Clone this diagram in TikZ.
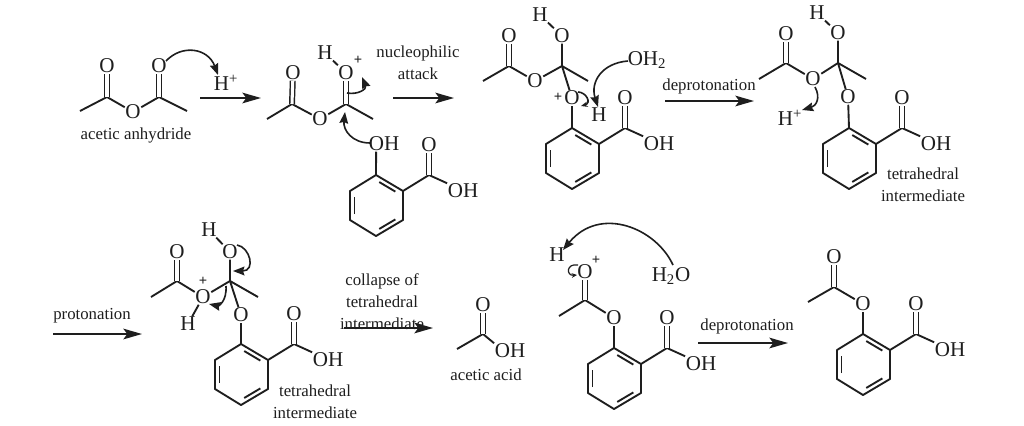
\documentclass[tikz,border=0pt]{standalone}
\usepackage{fontspec}
\setmainfont{Liberation Serif}
\usetikzlibrary{arrows.meta,calc}
\newcommand\atomsize{\fontsize{15.8}{15.8}\selectfont}
\newcommand\labelsize{\fontsize{12.6}{12.6}\selectfont}
\tikzset{
  atom/.style={inner sep=0.3pt,font=\atomsize,text=ink},
  lab/.style={inner sep=0pt,font=\labelsize,text=ink,align=center},
  chg/.style={inner sep=0pt,font=\bfseries\fontsize{11}{11}\selectfont,text=ink},
  bond/.style={draw=ink,line width=1.4pt,line join=round},
  dbl/.style={draw=ink,line width=1.1pt,double=white,double distance=2.3pt},
  rxn/.style={draw=ink,line width=1.3pt,-{Stealth[length=14pt,width=8pt,inset=3pt]}},
  push/.style={draw=ink,line width=1.2pt,-{Stealth[length=8.5pt,width=6.5pt,inset=1pt]}}
}
\definecolor{ink}{HTML}{1E1E1E}
% ring with COOH; #1 prefix, (#2,#3) ring vertex carrying the O substituent
\newcommand\salring[3]{%
\begin{scope}[shift={(#2,#3)}]
\coordinate (#1a) at (0,0);
\coordinate (#1b) at (27,16);
\coordinate (#1c) at (27,45);
\coordinate (#1d) at (0,61);
\coordinate (#1e) at (-26,45);
\coordinate (#1f) at (-26,16);
\coordinate (#1g) at (0.5,30.5);
\coordinate (#1k) at (53,0);
\node[atom] (#1o) at (53,-30) {O};
\node[atom] (#1h) at (87,16) {OH};
\draw[bond] (#1a)--(#1b)--(#1c)--(#1d)--(#1e)--(#1f)--cycle;
\draw[bond] ($(#1a)!.14!(#1b)!.17!(#1g)$) -- ($(#1b)!.14!(#1a)!.17!(#1g)$);
\draw[bond] ($(#1c)!.14!(#1d)!.17!(#1g)$) -- ($(#1d)!.14!(#1c)!.17!(#1g)$);
\draw[bond] ($(#1e)!.14!(#1f)!.17!(#1g)$) -- ($(#1f)!.14!(#1e)!.17!(#1g)$);
\draw[bond] (#1b) -- (#1k) -- (#1h.north west);
\draw[dbl] (#1k) -- (#1o);
\end{scope}}
\begin{document}
\begin{tikzpicture}[x=0.75pt,y=-0.75pt]
\useasboundingbox (0,0) rectangle (1024,425);
\fill[white] (0,0) rectangle (1024,425);
% ---- acetic anhydride
\coordinate (am1) at (80,111);
\coordinate (ac1) at (107,97);
\coordinate (ac2) at (159,97);
\coordinate (am2) at (187,111);
\node[atom] (ao1) at (107,66) {O};
\node[atom] (ao2) at (159,66) {O};
\node[atom] (ao3) at (133,112) {O};
\draw[bond] (am1)--(ac1)--(ao3)--(ac2)--(am2);
\draw[dbl] (ac1)--(ao1);
\draw[dbl] (ac2)--(ao2);
\node[lab] (alab) at (136,135) {acetic anhydride};
\node[atom] (hplus) at (226,83) {H\textsuperscript{+}};
\coordinate (pa1) at (166,61);
\coordinate (pa2) at (218,75);
\draw[push] (pa1) .. controls (182,44) and (208,48) .. (pa2);
\coordinate (r1a) at (200,98);
\coordinate (r1b) at (261,98);
\draw[rxn] (r1a)--(r1b);
% ---- protonated anhydride + salicylic acid
\coordinate (bm1) at (267,119);
\coordinate (bc1) at (292,104);
\coordinate (bc2) at (346,104);
\coordinate (bm2) at (373,119);
\node[atom] (bo1) at (293,73) {O};
\node[atom] (bo2) at (346,73) {O};
\node[atom] (bo3) at (320,119) {O};
\node[atom] (bh) at (325,53) {H};
\node[chg] (bp) at (358,60) {+};
\draw[bond] (bm1)--(bc1)--(bo3)--(bc2)--(bm2);
\draw[dbl] (bc1)--(bo1);
\draw[dbl] (bc2)--(bo2);
\draw[bond] (bh)--(bo2);
\salring{s}{376}{175}
\node[atom] (soh) at (384,144) {OH};
\draw[bond] (sa) -- ($(soh.south west)+(8,0)$);
\coordinate (pb1) at (347,93);
\coordinate (pb2) at (362,77);
\draw[push] (pb1) .. controls (358,95) and (367,89) .. (pb2);
\coordinate (pc1) at (370,143);
\coordinate (pc2) at (345,112);
\draw[push] (pc1) .. controls (352,143) and (343,130) .. (pc2);
\node[lab] (nuc) at (418,62.5) {nucleophilic\\[4pt]attack};
\coordinate (r2a) at (393,98);
\coordinate (r2b) at (454,98);
\draw[rxn] (r2a)--(r2b);
% ---- oxonium intermediate
\coordinate (cm1) at (483,81);
\coordinate (cc1) at (509,66);
\coordinate (cc2) at (562,66);
\coordinate (cm2) at (588,81);
\node[atom] (co1) at (509,36) {O};
\node[atom] (co2) at (562,36) {O};
\node[atom] (co3) at (535,81) {O};
\node[atom] (co4) at (572,98) {O};
\node[atom] (chh) at (540,15) {H};
\node[atom] (chp) at (599,115) {H};
\node[chg] (cp) at (558,97) {+};
\node[atom] (cw) at (647,60) {OH\textsubscript{2}};
\draw[bond] (cm1)--(cc1)--(co3)--(cc2)--(cm2);
\draw[bond] (cc2)--(co2)--(chh);
\draw[bond] (cc2)--(co4);
\draw[dbl] (cc1)--(co1);
\salring{t}{572}{128}
\draw[bond] (ta)--(co4);
\coordinate (pd1) at (628,61);
\coordinate (pd2) at (598,107);
\draw[push] (pd1) .. controls (602,63) and (590,82) .. (pd2);
\coordinate (pe1) at (578,92);
\coordinate (pe2) at (581,106);
\draw[push,-{Stealth[length=5pt,width=4pt]}] (pe1) .. controls (586,92) and (592,103) .. (pe2);
\node[lab] (dep1) at (709,86) {deprotonation};
\coordinate (r3a) at (665,101);
\coordinate (r3b) at (754,101);
\draw[rxn] (r3a)--(r3b);
% ---- tetrahedral intermediate (top right)
\coordinate (dm1) at (759,79);
\coordinate (dc1) at (786,63);
\coordinate (dc2) at (838,63);
\coordinate (dm2) at (866,79);
\node[atom] (do1) at (786,34) {O};
\node[atom] (do2) at (838,33) {O};
\node[atom] (do3) at (813,79) {O};
\node[atom] (do4) at (848,97) {O};
\node[atom] (dhh) at (817,13) {H};
\node[atom] (dhp) at (790,118) {H\textsuperscript{+}};
\draw[bond] (dm1)--(dc1)--(do3)--(dc2)--(dm2);
\draw[bond] (dc2)--(do2)--(dhh);
\draw[bond] (dc2)--(do4);
\draw[dbl] (dc1)--(do1);
\salring{u}{849}{128}
\draw[bond] (ua)--(do4);
\coordinate (pf1) at (815,87);
\coordinate (pf2) at (802,110);
\draw[push] (pf1) .. controls (821,98) and (816,106) .. (pf2);
\node[lab] (tet1) at (923,185) {tetrahedral\\[4pt]intermediate};
% ---- second row: protonation
\node[lab] (prot) at (92,316) {protonation};
\coordinate (r4a) at (53,334);
\coordinate (r4b) at (142,334);
\draw[rxn] (r4a)--(r4b);
\coordinate (em1) at (151,297);
\coordinate (ec1) at (177,281);
\coordinate (ec2) at (230,281);
\coordinate (em2) at (258,297);
\node[atom] (eo1) at (177,252) {O};
\node[atom] (eo2) at (230,252) {O};
\node[atom] (eo3) at (203,297) {O};
\node[atom] (eo4) at (241,315) {O};
\node[atom] (ehh) at (209,230) {H};
\node[atom] (ehp) at (188,324) {H};
\node[chg] (ep) at (203,281) {+};
\draw[bond] (em1)--(ec1)--(eo3)--(ec2)--(em2);
\draw[bond] (ec2)--(eo2)--(ehh);
\draw[bond] (ec2)--(eo4);
\draw[bond] (eo3)--(ehp);
\draw[dbl] (ec1)--(eo1);
\salring{v}{241}{344}
\draw[bond] (va)--(eo4);
\coordinate (pg1) at (237,245);
\coordinate (pg2) at (233,271);
\draw[push] (pg1) .. controls (250,247) and (256,271) .. (pg2);
\coordinate (ph1) at (226,286);
\coordinate (ph2) at (209,304);
\draw[push] (ph1) .. controls (227,302) and (218,306) .. (ph2);
\node[lab] (tet2) at (315,402) {tetrahedral\\[4pt]intermediate};
\node[lab] (coll) at (382,302) {collapse of\\[4pt]tetrahedral\\[4pt]intermediate};
\coordinate (r5a) at (344,328);
\coordinate (r5b) at (433,328);
\draw[rxn] (r5a)--(r5b);
% ---- acetic acid
\coordinate (fm) at (457,349);
\coordinate (fc) at (483,334);
\node[atom] (fo) at (483,305) {O};
\node[atom] (foh) at (510,351) {OH};
\draw[bond] (fm)--(fc)--(foh.north west);
\draw[dbl] (fc)--(fo);
\node[lab] (flab) at (486,375) {acetic acid};
% ---- protonated aspirin
\coordinate (gm) at (559,316);
\coordinate (gc) at (585,300);
\node[atom] (go1) at (585,272) {O};
\node[atom] (go2) at (614,318) {O};
\node[atom] (gh) at (557,255) {H};
\node[chg] (gp) at (596,260) {+};
\node[atom] (gw) at (671,276) {H\textsubscript{2}O};
\draw[bond] (gm)--(gc)--(go2);
\draw[dbl] (gc)--(go1);
\salring{w}{614}{348}
\draw[bond] (wa)--(go2);
\coordinate (pi1) at (673,265);
\coordinate (pi2) at (563,250);
\draw[push] (pi1) .. controls (656,228) and (600,205) .. (pi2);
\coordinate (pj1) at (578,265);
\coordinate (pj2) at (577,275);
\draw[push,line width=.9pt,-{Stealth[length=4pt,width=3.5pt]}] (pj1) .. controls (566,263) and (566,276) .. (pj2);
\node[lab] (dep2) at (747,326) {deprotonation};
\coordinate (r6a) at (698,343);
\coordinate (r6b) at (788,343);
\draw[rxn] (r6a)--(r6b);
% ---- aspirin
\coordinate (hm) at (808,302);
\coordinate (hc) at (834,287);
\node[atom] (ho1) at (834,257) {O};
\node[atom] (ho2) at (863,304) {O};
\draw[bond] (hm)--(hc)--(ho2);
\draw[dbl] (hc)--(ho1);
\salring{x}{863}{334}
\draw[bond] (xa)--(ho2);
\end{tikzpicture}
\end{document}
